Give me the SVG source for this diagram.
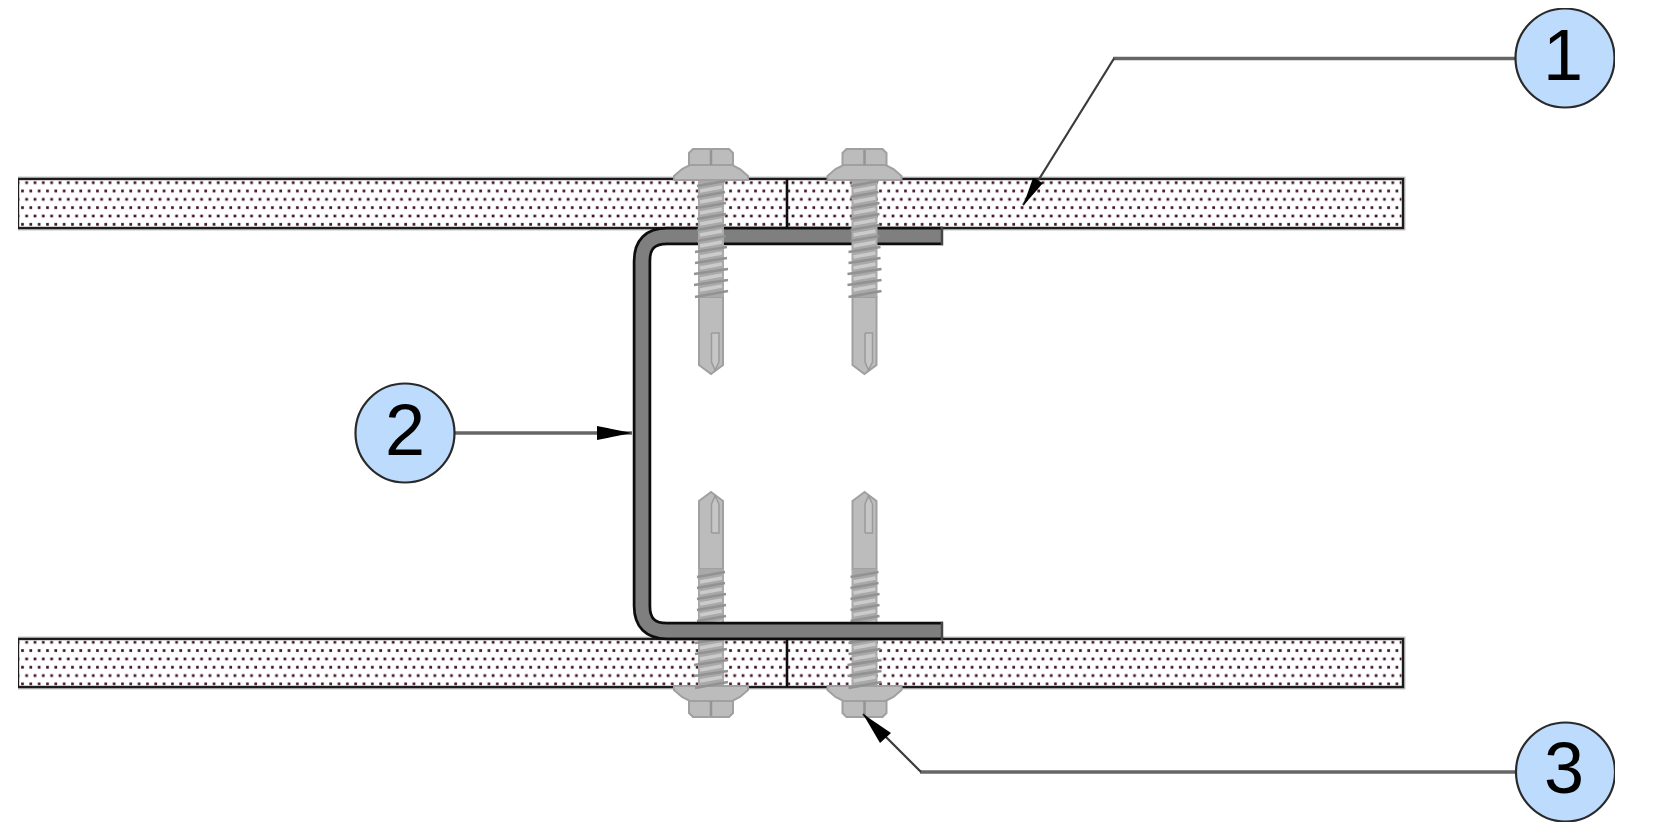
<svg xmlns="http://www.w3.org/2000/svg" width="1663" height="829" viewBox="0 0 1663 829">
<style>
.halo{fill:none;stroke:#c6c6c6;stroke-width:5}
.edge{stroke:#1a1a1a;stroke-width:2.4}
.joint{stroke:#111;stroke-width:2.6}
.lead{fill:none;stroke:#666;stroke-width:3.6}
.diag{fill:none;stroke:#3a3a3a;stroke-width:2.2}
.bub{fill:#bddcfd;stroke:#2a2a2a;stroke-width:2.2}
.num{font-family:"Liberation Sans",Arial,sans-serif;font-size:72px;fill:#000;text-anchor:middle}
.head{fill:#000}
.metal{fill:#bcbcbc;stroke:#a0a0a0;stroke-width:2}
.thr{fill:none;stroke:#929292;stroke-width:2.6}
.thl{fill:none;stroke:#cbcbcb;stroke-width:3.4}
</style>
<defs>
<filter id="soft" x="0" y="0" width="1" height="1" filterUnits="objectBoundingBox"><feGaussianBlur stdDeviation="0.5"/></filter>
<pattern id="dotsTop" patternUnits="userSpaceOnUse" x="24.700" y="180.700" width="8.330" height="16.670">
<rect x="0.600" y="0.600" width="2.700" height="2.700" fill="#3e1028"/><rect x="4.770" y="8.930" width="2.700" height="2.700" fill="#3e1028"/>
</pattern>
<pattern id="dotsBot" patternUnits="userSpaceOnUse" x="24.700" y="640.300" width="8.330" height="16.670">
<rect x="0.600" y="0.600" width="2.700" height="2.700" fill="#3e1028"/><rect x="4.770" y="8.930" width="2.700" height="2.700" fill="#3e1028"/>
</pattern>
<g id="boltBody">
<path class="metal" d="M699 297H723V365L711 374L699 365Z"/>
<path d="M711.500 333H719V362M711.500 333V362L715 370L719 362" fill="#c6c6c6" stroke="#9a9a9a" stroke-width="1.500"/>
<path d="M698 178H724V297H698Z" fill="#a9a9a9"/>
<path class="metal" d="M674 180V176L682 169L690 165H732L740 169L748 176V180Z" fill="#b4b4b4"/>
<path class="metal" d="M689 165V153L693 149H729L733 153V165Z"/>
<path d="M711 150V165" stroke="#949494" stroke-width="2.500"/>
</g>
<g id="threads">
<g class="thr">
<path d="M697 186L725 181M697 197L725 192M697 208L726 203M697 219L726 214M697 230L726 225M697 241L726 236"/>
<path d="M695 252L727 247M695 263L727 258M694 274L728 269M694 285L728 280M695 297L728 291"/>
</g>
<g class="thl">
<path d="M700 191L722 187M700 202L722 198M700 213L722 209M700 224L722 220M700 235L722 231M700 246L722 242M700 257L722 253M700 268L722 264M700 279L722 275M700 290L722 286"/>
</g>
</g>
</defs>
<rect width="1663" height="829" fill="#fff"/>
<g filter="url(#soft)">
<g id="panel-top">
<rect class="halo" x="18" y="179" width="1385" height="49"/>
<rect x="18" y="179" width="1385" height="49" fill="#fff" class="edge"/>
<rect x="19.500" y="180.500" width="1382" height="46" fill="url(#dotsTop)"/>
<path class="joint" d="M787 179V228"/>
</g>
<g id="panel-bottom">
<rect class="halo" x="18" y="639" width="1385" height="48"/>
<rect x="18" y="639" width="1385" height="48" fill="#fff" class="edge"/>
<rect x="19.500" y="640.500" width="1382" height="45" fill="url(#dotsBot)"/>
<path class="joint" d="M787 639V687"/>
</g>
<g id="screws-bottom">
<use href="#boltBody" transform="matrix(1 0 0 -1 0 866)"/>
<use href="#boltBody" transform="matrix(1 0 0 -1 153.500 866)"/>
<use href="#threads" transform="translate(0 391)"/>
<use href="#threads" transform="translate(153.500 391)"/>
</g>
<g id="channel">
<path d="M943 236H667Q642 236 642 261V606Q642 631 667 631H943" fill="none" stroke="#111" stroke-width="18.500"/>
<path d="M943 236H667Q642 236 642 261V606Q642 631 667 631H943" fill="none" stroke="#7f7f7f" stroke-width="13"/>
<path d="M942 226.800V245.200M942 621.800V640.200" stroke="#444" stroke-width="2.500"/>
</g>
<g id="screws-top">
<use href="#boltBody"/>
<use href="#boltBody" transform="translate(153.500 0)"/>
<use href="#threads"/>
<use href="#threads" transform="translate(153.500 0)"/>
</g>
<g id="connectors">
<path class="lead" d="M1516 58.500H1113"/>
<path class="diag" d="M1114 58.500L1023 205"/>
<path class="head" d="M1023 206L1033 178L1043 183Z"/>
<path class="lead" d="M455 433H632"/>
<path class="head" d="M632 433L597 426V440Z"/>
<path class="lead" d="M1517 772H920"/>
<path class="diag" d="M921 772L863 714"/>
<path class="head" d="M863 714L891 733L880 743Z"/>
</g>
<g id="bubble-1"><circle class="bub" cx="1565" cy="58" r="49.500"/><text class="num" x="1563" y="80">1</text></g>
<g id="bubble-2"><circle class="bub" cx="405" cy="433" r="49.500"/><text class="num" x="405" y="455">2</text></g>
<g id="bubble-3"><circle class="bub" cx="1565.500" cy="772" r="49.500"/><text class="num" x="1564" y="793">3</text></g>
</g>
</svg>
